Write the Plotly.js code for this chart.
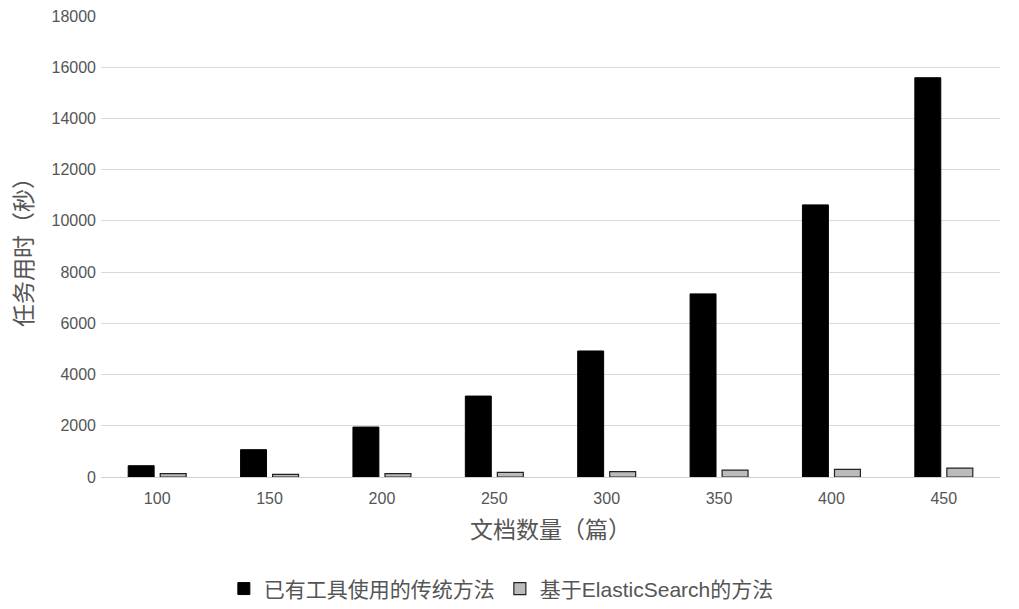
<!DOCTYPE html>
<html>
<head>
<meta charset="utf-8">
<script src="https://cdn.plot.ly/plotly-3.0.1.min.js"></script>
<style>
  body { margin: 0; background: #fff; }
  #chart { width: 1019px; height: 609px; }
</style>
</head>
<body>
<div id="chart"></div>
<script>
var docCounts = ['100', '150', '200', '250', '300', '350', '400', '450'];
var traditionalTimes = [440, 1066, 1950, 3160, 4920, 7150, 10625, 15590];
var elasticTimes = [130, 105, 130, 180, 210, 270, 300, 350];
var seriesNames = ['已有工具使用的传统方法', '基于ElasticSearch的方法'];
var yTicks = [0, 2000, 4000, 6000, 8000, 10000, 12000, 14000, 16000, 18000];

var cjkFont = '"Liberation Sans", "Noto Sans CJK SC", sans-serif';

var data = [
    {
        x: docCounts, y: traditionalTimes,
        name: seriesNames[0],
        type: 'bar',
        marker: { color: '#000000', line: { color: '#000000', width: 1 } }
    },
    {
        x: docCounts, y: elasticTimes,
        name: seriesNames[1],
        type: 'bar',
        marker: { color: '#bbbbbb', line: { color: '#222222', width: 1.2 } }
    }
];

var layout = {
    width: 1019,
    height: 609,
    paper_bgcolor: '#ffffff',
    plot_bgcolor: '#ffffff',
    margin: { l: 101, r: 19, t: 16, b: 132, autoexpand: false },
    barmode: 'group',
    bargap: 0.43,
    bargroupgap: 0.19,
    font: { family: cjkFont, color: '#555555' },
    xaxis: {
        type: 'category',
        showgrid: false,
        showline: false,
        ticks: '',
        ticklabelstandoff: 10,
        tickfont: { size: 16, color: '#555555' },
        title: { text: '文档数量（篇）', font: { size: 23, color: '#555555' }, standoff: 15 }
    },
    yaxis: {
        range: [0, 18000],
        tickvals: yTicks,
        ticktext: yTicks.map(String),
        showgrid: true,
        gridcolor: '#d9d9d9',
        zeroline: true,
        zerolinecolor: '#d0d0d0',
        zerolinewidth: 1,
        ticks: '',
        ticklabelstandoff: 4,
        tickfont: { size: 16, color: '#555555' },
        title: { text: '任务用时（秒）', font: { size: 23, color: '#555555' }, standoff: 12 }
    },
    legend: {
        orientation: 'h',
        xref: 'container', yref: 'container',
        x: 0.492, xanchor: 'center',
        y: 0.033, yanchor: 'middle',
        font: { size: 21, color: '#555555' },
        itemwidth: 30
    },
    showlegend: true
};

Plotly.newPlot('chart', data, layout, { displayModeBar: false, staticPlot: true });
</script>
</body>
</html>
